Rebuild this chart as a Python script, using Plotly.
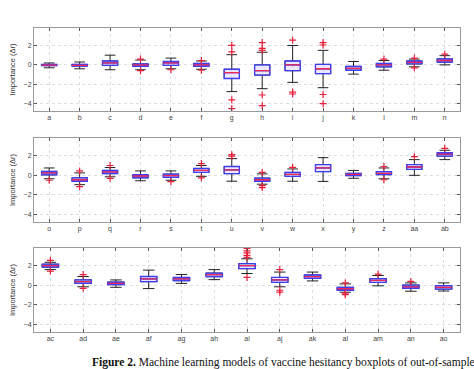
import plotly.graph_objects as go

# ---------------- data ----------------
categories = ["a", "b", "c", "d", "e", "f", "g", "h", "i", "j", "k", "l", "m", "n",
              "o", "p", "q", "r", "s", "t", "u", "v", "w", "x", "y", "z", "aa", "ab",
              "ac", "ad", "ae", "af", "ag", "ah", "ai", "aj", "ak", "al", "am", "an", "ao"]
panel_sizes = [14, 14, 13]

lower_fence = [-0.30, -0.40, -0.50, -0.50, -0.40, -0.45, -2.75, -2.45, -1.80, -2.35, -0.95, -0.55, -0.20, 0.00,
               -0.35, -0.95, -0.15, -0.55, -0.50, -0.10, -0.60, -0.90, -0.60, -0.62, -0.30, -0.35, 0.00, 1.60,
               1.60, -0.15, -0.20, -0.33, 0.20, 0.58, 1.20, -0.15, 0.45, -0.70, -0.05, -0.60, -0.58]
quartile1 = [-0.08, -0.12, -0.05, -0.15, -0.05, -0.15, -1.40, -1.05, -0.60, -0.90, -0.55, -0.20, 0.10, 0.28,
             0.05, -0.62, 0.17, -0.25, -0.20, 0.30, 0.17, -0.62, -0.10, 0.38, -0.03, 0.07, 0.60, 1.95,
             1.85, 0.20, 0.07, 0.37, 0.47, 0.88, 1.70, 0.30, 0.70, -0.50, 0.30, -0.30, -0.38]
medians = [-0.02, -0.05, 0.20, 0.00, 0.20, 0.00, -0.80, -0.60, 0.00, -0.40, -0.35, 0.00, 0.25, 0.45,
           0.25, -0.45, 0.35, -0.07, -0.02, 0.50, 0.55, -0.45, 0.10, 0.75, 0.10, 0.20, 0.85, 2.15,
           2.00, 0.37, 0.20, 0.65, 0.65, 1.08, 2.00, 0.55, 0.88, -0.35, 0.50, -0.15, -0.20]
quartile3 = [0.05, 0.05, 0.40, 0.10, 0.35, 0.15, -0.45, 0.00, 0.40, 0.05, -0.15, 0.15, 0.40, 0.62,
             0.40, -0.25, 0.50, 0.07, 0.13, 0.70, 0.90, -0.28, 0.30, 1.10, 0.20, 0.38, 1.10, 2.30,
             2.15, 0.55, 0.33, 0.90, 0.80, 1.25, 2.20, 0.80, 1.05, -0.20, 0.68, 0.03, -0.03]
upper_fence = [0.20, 0.30, 1.00, 0.50, 0.70, 0.40, 1.05, 1.30, 2.00, 1.50, 0.35, 0.45, 0.60, 0.95,
               0.75, 0.25, 0.80, 0.45, 0.45, 1.00, 1.70, 0.15, 0.65, 1.80, 0.50, 0.75, 1.60, 2.55,
               2.35, 0.90, 0.55, 1.55, 1.10, 1.60, 2.70, 1.35, 1.35, 0.15, 1.00, 0.25, 0.25]
outliers = [[], [], [], [0.6, -0.6], [-0.5], [0.45, -0.55], [2.0, 1.35, -3.6, -4.5],
            [2.3, 1.7, 1.5, -3.1, -4.2], [2.55, -2.8, -3.0], [2.3, 2.05, -3.05, -4.0], [], [0.6],
            [0.7, -0.3], [1.1],
            [-0.5], [0.45, -1.15], [1.0, -0.3], [], [-0.65], [1.2, -0.25], [2.1, 1.95],
            [0.3, -1.05, -1.25], [0.8], [], [], [0.9, -0.45], [1.9], [2.75],
            [2.55, 1.45], [1.1, -0.3], [], [], [], [], [3.75, 3.5, 3.3, 3.05, 2.85, 0.8],
            [1.6, -0.5, -0.7], [], [0.25, -0.8, -0.95], [1.15], [0.4], []]

y_tick_values = [-4, -2, 0, 2]
y_title = "Importance (Δr)"
caption_bold = "Figure 2."
caption_rest = "Machine learning models of vaccine hesitancy boxplots of out-of-sample"

# ---------------- styling ----------------
BOX_BLUE = "#3d3df2"
MED_RED = "#f0285a"
OUT_RED = "#e8203c"
WHISK = "#222222"
FONT = "Liberation Sans"

W, H = 474, 369
ML, MR, MT, MB = 32, 14, 28, 37
plot_h = H - MT - MB
panel_pix = [(28, 111), (138, 222), (248, 332)]
domains = [[(332 - b) / plot_h, (332 - t) / plot_h] for (t, b) in panel_pix]

fig = go.Figure()
start = 0
for p, n in enumerate(panel_sizes):
    sl = slice(start, start + n)
    cats = categories[sl]
    xa = "x" if p == 0 else f"x{p+1}"
    ya = "y" if p == 0 else f"y{p+1}"
    q1 = quartile1[sl]; q3 = quartile3[sl]; md = medians[sl]
    lf = lower_fence[sl]; uf = upper_fence[sl]
    # whiskers (black)
    fig.add_trace(go.Box(x=cats, q1=q1, median=md, q3=q3, lowerfence=lf, upperfence=uf,
                         width=0.5, whiskerwidth=0.7, line=dict(color=WHISK, width=1),
                         fillcolor="rgba(0,0,0,0)", boxpoints=False, xaxis=xa, yaxis=ya,
                         showlegend=False, hoverinfo="skip"))
    # box body (blue)
    fig.add_trace(go.Box(x=cats, q1=q1, median=md, q3=q3, lowerfence=q1, upperfence=q3,
                         width=0.5, whiskerwidth=0, line=dict(color=BOX_BLUE, width=1.3),
                         fillcolor="rgba(200,190,255,0.35)", boxpoints=False, xaxis=xa, yaxis=ya,
                         showlegend=False, hoverinfo="skip"))
    # median (red)
    fig.add_trace(go.Box(x=cats, q1=md, median=md, q3=md, lowerfence=md, upperfence=md,
                         width=0.5, whiskerwidth=0, line=dict(color=MED_RED, width=1.3),
                         fillcolor="rgba(0,0,0,0)", boxpoints=False, xaxis=xa, yaxis=ya,
                         showlegend=False, hoverinfo="skip"))
    # outliers
    ox, oy = [], []
    for c, vals in zip(cats, outliers[sl]):
        for v in vals:
            ox.append(c); oy.append(v)
    fig.add_trace(go.Scatter(x=ox, y=oy, mode="markers", xaxis=xa, yaxis=ya,
                             marker=dict(symbol="cross-thin", size=5,
                                         line=dict(color=OUT_RED, width=1.2)),
                             showlegend=False, hoverinfo="skip"))
    axis_common = dict(showline=True, linecolor="#9a9a9a", linewidth=1, mirror="ticks",
                       ticks="inside", ticklen=3, tickcolor="#555", showgrid=True,
                       gridcolor="#dedede", griddash="dot", gridwidth=1, zeroline=False,
                       tickfont=dict(family=FONT, size=7, color="#444"))
    fig.layout[("xaxis" if p == 0 else f"xaxis{p+1}")] = dict(
        axis_common, domain=[0, 1], anchor=ya, type="category",
        categoryorder="array", categoryarray=cats, range=[-0.5, n - 0.5])
    fig.layout[("yaxis" if p == 0 else f"yaxis{p+1}")] = dict(
        axis_common, domain=domains[p], anchor=xa, range=[-4.75, 3.8],
        tickvals=y_tick_values, ticktext=[("−" + str(-v)) if v < 0 else str(v) for v in y_tick_values],
        title=dict(text=y_title, font=dict(family=FONT, size=7.5, color="#333"), standoff=6))
    start += n

fig.add_annotation(xref="paper", yref="paper", x=(88 - ML) / (W - ML - MR), y=(332 - 362) / plot_h,
                   xanchor="left", yanchor="middle", showarrow=False,
                   text=f"<b>{caption_bold}</b> {caption_rest}",
                   font=dict(family="Liberation Serif", size=11.5, color="#111"))

fig.update_layout(width=W, height=H, autosize=False, boxmode="overlay",
                  margin=dict(l=ML, r=MR, t=MT, b=MB, pad=0),
                  plot_bgcolor="white", paper_bgcolor="white")

fig.write_html("out.html", config={"displayModeBar": False},
               post_script="document.body.style.margin='0';")
